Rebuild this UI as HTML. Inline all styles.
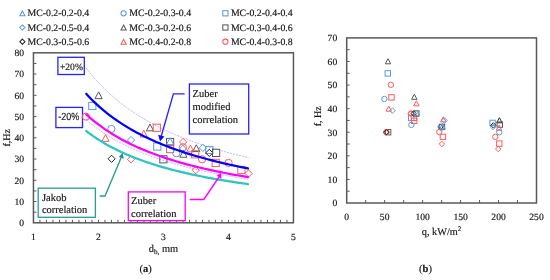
<!DOCTYPE html><html><head><meta charset="utf-8"><style>html,body{margin:0;padding:0;background:#fff;width:550px;height:280px;overflow:hidden}svg{display:block}text{text-rendering:geometricPrecision;font-family:"Liberation Serif",serif;fill:#141414;stroke:#141414;stroke-width:0.16px}</style></head><body>
<svg width="550" height="280" viewBox="0 0 550 280">
<rect width="550" height="280" fill="#fff"/>
<polygon points="22.4,10.92 25,15.83 19.8,15.83" fill="none" stroke="#5B9BD5" stroke-width="1.05"/>
<text x="27.5" y="16.4" font-size="9.8">MC-0.2-0.2-0.4</text>
<circle cx="123.6" cy="13.3" r="2.6" fill="none" stroke="#5B9BD5" stroke-width="1.05"/>
<text x="129.3" y="16.4" font-size="9.8">MC-0.2-0.3-0.4</text>
<rect x="222.8" y="10.7" width="5.2" height="5.2" fill="none" stroke="#5B9BD5" stroke-width="1.05"/>
<text x="230.9" y="16.4" font-size="9.8">MC-0.2-0.4-0.4</text>
<polygon points="22.4,24.9 25,27.5 22.4,30.1 19.8,27.5" fill="none" stroke="#5B9BD5" stroke-width="1.05"/>
<text x="27.5" y="30.6" font-size="9.8">MC-0.2-0.5-0.4</text>
<polygon points="123.6,25.12 126.2,30.03 121,30.03" fill="none" stroke="#595959" stroke-width="1.05"/>
<text x="129.3" y="30.6" font-size="9.8">MC-0.3-0.2-0.6</text>
<rect x="222.8" y="24.9" width="5.2" height="5.2" fill="none" stroke="#595959" stroke-width="1.05"/>
<text x="230.9" y="30.6" font-size="9.8">MC-0.3-0.4-0.6</text>
<polygon points="22.4,39.1 25,41.7 22.4,44.3 19.8,41.7" fill="none" stroke="#262626" stroke-width="1.05"/>
<text x="27.5" y="44.8" font-size="9.8">MC-0.3-0.5-0.6</text>
<polygon points="123.6,39.32 126.2,44.23 121,44.23" fill="none" stroke="#FF5B5B" stroke-width="1.05"/>
<text x="129.3" y="44.8" font-size="9.8">MC-0.4-0.2-0.8</text>
<circle cx="225.4" cy="41.7" r="2.6" fill="none" stroke="#FF5B5B" stroke-width="1.05"/>
<text x="230.9" y="44.8" font-size="9.8">MC-0.4-0.3-0.8</text>
<path d="M86.1,67.85 L88.81,71.34 L91.52,74.67 L94.23,77.86 L96.93,80.91 L99.64,83.84 L102.35,86.65 L105.06,89.35 L107.77,91.95 L110.48,94.44 L113.18,96.84 L115.89,99.16 L118.6,101.39 L121.31,103.54 L124.02,105.62 L126.73,107.62 L129.43,109.56 L132.14,111.43 L134.85,113.25 L137.56,115 L140.27,116.7 L142.98,118.35 L145.68,119.94 L148.39,121.49 L151.1,122.99 L153.81,124.45 L156.52,125.87 L159.22,127.24 L161.93,128.58 L164.64,129.88 L167.35,131.15 L170.06,132.38 L172.77,133.58 L175.47,134.74 L178.18,135.88 L180.89,136.99 L183.6,138.07 L186.31,139.12 L189.02,140.15 L191.72,141.15 L194.43,142.13 L197.14,143.09 L199.85,144.02 L202.56,144.93 L205.27,145.82 L207.97,146.69 L210.68,147.54 L213.39,148.37 L216.1,149.19 L218.81,149.98 L221.52,150.76 L224.22,151.53 L226.93,152.27 L229.64,153 L232.35,153.72 L235.06,154.42 L237.77,155.11 L240.47,155.78 L243.18,156.45 L245.89,157.09 L248.6,157.73" fill="none" stroke="#A2A2FF" stroke-width="0.72" stroke-dasharray="2.2 0.9"/>
<path d="M86.1,119.5 L88.81,121.82 L91.52,124.05 L94.23,126.17 L96.93,128.21 L99.64,130.16 L102.35,132.04 L105.06,133.84 L107.77,135.57 L110.48,137.23 L113.18,138.83 L115.89,140.37 L118.6,141.86 L121.31,143.29 L124.02,144.68 L126.73,146.01 L129.43,147.31 L132.14,148.56 L134.85,149.76 L137.56,150.93 L140.27,152.07 L142.98,153.16 L145.68,154.23 L148.39,155.26 L151.1,156.26 L153.81,157.23 L156.52,158.18 L159.22,159.1 L161.93,159.99 L164.64,160.85 L167.35,161.7 L170.06,162.52 L172.77,163.32 L175.47,164.1 L178.18,164.85 L180.89,165.59 L183.6,166.31 L186.31,167.01 L189.02,167.7 L191.72,168.37 L194.43,169.02 L197.14,169.66 L199.85,170.28 L202.56,170.89 L205.27,171.48 L207.97,172.06 L210.68,172.63 L213.39,173.18 L216.1,173.73 L218.81,174.26 L221.52,174.78 L224.22,175.28 L226.93,175.78 L229.64,176.27 L232.35,176.75 L235.06,177.22 L237.77,177.67 L240.47,178.12 L243.18,178.56 L245.89,179 L248.6,179.42" fill="none" stroke="#A2A2FF" stroke-width="0.72" stroke-dasharray="2.2 0.9"/>
<rect x="55.9" y="107.4" width="26.6" height="20.2" fill="#fff" stroke="#2424FF" stroke-width="1.3"/>
<polygon points="98.6,91.85 102.2,98.65 95,98.65" fill="none" stroke="#595959" stroke-width="1.0"/>
<rect x="88.7" y="102.4" width="7.2" height="7.2" fill="none" stroke="#5B9BD5" stroke-width="1.0"/>
<circle cx="85.9" cy="116.6" r="3.6" fill="none" stroke="#FF5B5B" stroke-width="1.0"/>
<circle cx="111.4" cy="128.9" r="3.6" fill="none" stroke="#5B9BD5" stroke-width="1.0"/>
<polygon points="105.5,134.55 109.1,141.35 101.9,141.35" fill="none" stroke="#FF5B5B" stroke-width="1.0"/>
<polygon points="131,136.5 134.6,140.1 131,143.7 127.4,140.1" fill="none" stroke="#5B9BD5" stroke-width="1.0"/>
<polygon points="111.6,155.2 115.2,158.8 111.6,162.4 108,158.8" fill="none" stroke="#262626" stroke-width="1.0"/>
<polygon points="131,155.8 134.6,159.4 131,163 127.4,159.4" fill="none" stroke="#FF5B5B" stroke-width="1.0"/>
<polygon points="143.8,130.25 147.4,137.05 140.2,137.05" fill="none" stroke="#FF5B5B" stroke-width="1.0"/>
<polygon points="150,124.05 153.6,130.85 146.4,130.85" fill="none" stroke="#595959" stroke-width="1.0"/>
<rect x="153.2" y="124.2" width="7.2" height="7.2" fill="none" stroke="#FF5B5B" stroke-width="1.0"/>
<rect x="153.7" y="142.9" width="7.2" height="7.2" fill="none" stroke="#5B9BD5" stroke-width="1.0"/>
<rect x="166.5" y="138.4" width="7.2" height="7.2" fill="none" stroke="#595959" stroke-width="1.0"/>
<polygon points="170.1,137.75 173.7,144.55 166.5,144.55" fill="none" stroke="#5B9BD5" stroke-width="1.0"/>
<rect x="166.5" y="145.4" width="7.2" height="7.2" fill="none" stroke="#FF5B5B" stroke-width="1.0"/>
<rect x="159.8" y="155.7" width="7.2" height="7.2" fill="none" stroke="#595959" stroke-width="1.0"/>
<polygon points="183.1,138.4 186.7,142 183.1,145.6 179.5,142" fill="none" stroke="#FF5B5B" stroke-width="1.0"/>
<circle cx="182.9" cy="147.3" r="3.6" fill="none" stroke="#FF5B5B" stroke-width="1.0"/>
<polygon points="182.9,145.3 186.5,148.9 182.9,152.5 179.3,148.9" fill="none" stroke="#5B9BD5" stroke-width="1.0"/>
<circle cx="176.3" cy="153.3" r="3.6" fill="none" stroke="#5B9BD5" stroke-width="1.0"/>
<polygon points="183.4,150.45 187,157.25 179.8,157.25" fill="none" stroke="#595959" stroke-width="1.0"/>
<polygon points="190.4,145.05 194,151.85 186.8,151.85" fill="none" stroke="#FF5B5B" stroke-width="1.0"/>
<polygon points="196.3,144.75 199.9,151.55 192.7,151.55" fill="none" stroke="#595959" stroke-width="1.0"/>
<rect x="191.6" y="150.7" width="7.2" height="7.2" fill="none" stroke="#FF5B5B" stroke-width="1.0"/>
<polygon points="202.9,144.3 206.5,147.9 202.9,151.5 199.3,147.9" fill="none" stroke="#5B9BD5" stroke-width="1.0"/>
<circle cx="202.1" cy="159.3" r="3.6" fill="none" stroke="#FF5B5B" stroke-width="1.0"/>
<rect x="205.7" y="146.4" width="7.2" height="7.2" fill="none" stroke="#5B9BD5" stroke-width="1.0"/>
<polygon points="209.3,149.3 212.9,152.9 209.3,156.5 205.7,152.9" fill="none" stroke="#262626" stroke-width="1.0"/>
<rect x="212.5" y="149.3" width="7.2" height="7.2" fill="none" stroke="#595959" stroke-width="1.0"/>
<rect x="212.1" y="159.3" width="7.2" height="7.2" fill="none" stroke="#FF5B5B" stroke-width="1.0"/>
<circle cx="228.6" cy="162.9" r="3.6" fill="none" stroke="#FF5B5B" stroke-width="1.0"/>
<polygon points="195.7,166.6 199.3,170.2 195.7,173.8 192.1,170.2" fill="none" stroke="#FF5B5B" stroke-width="1.0"/>
<rect x="237.8" y="166.4" width="7.2" height="7.2" fill="none" stroke="#FF5B5B" stroke-width="1.0"/>
<polygon points="248.6,169.8 252.2,173.4 248.6,177 245,173.4" fill="none" stroke="#FF5B5B" stroke-width="1.0"/>
<path d="M86.23,130.99 L88.93,133.04 L91.62,135.01 L94.32,136.89 L97.01,138.69 L99.71,140.41 L102.4,142.07 L105.1,143.66 L107.79,145.2 L110.49,146.67 L113.18,148.09 L115.88,149.45 L118.57,150.77 L121.27,152.04 L123.96,153.27 L126.66,154.45 L129.36,155.59 L132.05,156.7 L134.75,157.77 L137.44,158.81 L140.14,159.82 L142.83,160.79 L145.53,161.73 L148.22,162.65 L150.92,163.54 L153.61,164.4 L156.31,165.24 L159,166.05 L161.7,166.84 L164.39,167.61 L167.09,168.36 L169.79,169.09 L172.48,169.8 L175.18,170.49 L177.87,171.16 L180.57,171.82 L183.26,172.46 L185.96,173.08 L188.65,173.69 L191.35,174.29 L194.04,174.87 L196.74,175.43 L199.43,175.98 L202.13,176.52 L204.82,177.05 L207.52,177.57 L210.22,178.07 L212.91,178.57 L215.61,179.05 L218.3,179.52 L221,179.98 L223.69,180.43 L226.39,180.88 L229.08,181.31 L231.78,181.73 L234.47,182.15 L237.17,182.56 L239.86,182.96 L242.56,183.35 L245.25,183.73 L247.95,184.11" fill="none" stroke="#2EC4C0" stroke-width="2.25" stroke-linecap="round"/>
<path d="M86.23,114.34 L88.93,116.76 L91.62,119.08 L94.32,121.31 L97.01,123.43 L99.71,125.47 L102.4,127.43 L105.1,129.31 L107.79,131.12 L110.49,132.86 L113.18,134.54 L115.88,136.15 L118.57,137.71 L121.27,139.21 L123.96,140.65 L126.66,142.05 L129.36,143.41 L132.05,144.71 L134.75,145.98 L137.44,147.21 L140.14,148.39 L142.83,149.54 L145.53,150.66 L148.22,151.74 L150.92,152.79 L153.61,153.81 L156.31,154.8 L159,155.76 L161.7,156.69 L164.39,157.6 L167.09,158.49 L169.79,159.35 L172.48,160.19 L175.18,161 L177.87,161.8 L180.57,162.57 L183.26,163.33 L185.96,164.07 L188.65,164.79 L191.35,165.49 L194.04,166.17 L196.74,166.84 L199.43,167.49 L202.13,168.13 L204.82,168.76 L207.52,169.36 L210.22,169.96 L212.91,170.54 L215.61,171.11 L218.3,171.67 L221,172.22 L223.69,172.75 L226.39,173.27 L229.08,173.79 L231.78,174.29 L234.47,174.78 L237.17,175.26 L239.86,175.73 L242.56,176.2 L245.25,176.65 L247.95,177.09" fill="none" stroke="#FF00FF" stroke-width="2.25" stroke-linecap="round"/>
<path d="M86.23,93.82 L88.93,96.7 L91.62,99.46 L94.32,102.1 L97.01,104.63 L99.71,107.06 L102.4,109.39 L105.1,111.63 L107.79,113.78 L110.49,115.85 L113.18,117.84 L115.88,119.76 L118.57,121.61 L121.27,123.39 L123.96,125.11 L126.66,126.78 L129.36,128.39 L132.05,129.94 L134.75,131.45 L137.44,132.9 L140.14,134.32 L142.83,135.68 L145.53,137.01 L148.22,138.3 L150.92,139.54 L153.61,140.76 L156.31,141.93 L159,143.08 L161.7,144.19 L164.39,145.27 L167.09,146.32 L169.79,147.35 L172.48,148.34 L175.18,149.31 L177.87,150.26 L180.57,151.18 L183.26,152.08 L185.96,152.96 L188.65,153.81 L191.35,154.65 L194.04,155.46 L196.74,156.25 L199.43,157.03 L202.13,157.79 L204.82,158.53 L207.52,159.26 L210.22,159.96 L212.91,160.66 L215.61,161.33 L218.3,162 L221,162.65 L223.69,163.28 L226.39,163.9 L229.08,164.51 L231.78,165.11 L234.47,165.69 L237.17,166.27 L239.86,166.83 L242.56,167.38 L245.25,167.92 L247.95,168.45" fill="none" stroke="#0000FF" stroke-width="2.25" stroke-linecap="round"/>
<g stroke="#595959" stroke-width="1.5" fill="none">
<rect x="33.45" y="52.82" width="260" height="169.98"/>
<path d="M39.95,222.8v-3 M46.45,222.8v-3 M52.95,222.8v-3 M59.45,222.8v-3 M65.95,222.8v-3 M72.45,222.8v-3 M78.95,222.8v-3 M85.45,222.8v-3 M91.95,222.8v-3 M98.45,222.8v-3 M104.95,222.8v-3 M111.45,222.8v-3 M117.95,222.8v-3 M124.45,222.8v-3 M130.95,222.8v-3 M137.45,222.8v-3 M143.95,222.8v-3 M150.45,222.8v-3 M156.95,222.8v-3 M163.45,222.8v-3 M169.95,222.8v-3 M176.45,222.8v-3 M182.95,222.8v-3 M189.45,222.8v-3 M195.95,222.8v-3 M202.45,222.8v-3 M208.95,222.8v-3 M215.45,222.8v-3 M221.95,222.8v-3 M228.45,222.8v-3 M234.95,222.8v-3 M241.45,222.8v-3 M247.95,222.8v-3 M254.45,222.8v-3 M260.95,222.8v-3 M267.45,222.8v-3 M273.95,222.8v-3 M280.45,222.8v-3 M286.95,222.8v-3 M33.45,212.18h3 M33.45,201.55h3 M33.45,190.93h3 M33.45,180.31h3 M33.45,169.68h3 M33.45,159.06h3 M33.45,148.44h3 M33.45,137.81h3 M33.45,127.19h3 M33.45,116.57h3 M33.45,105.94h3 M33.45,95.32h3 M33.45,84.69h3 M33.45,74.07h3 M33.45,63.45h3" stroke-width="1"/>
</g>
<text x="24" y="226.1" font-size="9.6" text-anchor="end">0</text>
<text x="24" y="204.85" font-size="9.6" text-anchor="end">10</text>
<text x="24" y="183.61" font-size="9.6" text-anchor="end">20</text>
<text x="24" y="162.36" font-size="9.6" text-anchor="end">30</text>
<text x="24" y="141.11" font-size="9.6" text-anchor="end">40</text>
<text x="24" y="119.87" font-size="9.6" text-anchor="end">50</text>
<text x="24" y="98.62" font-size="9.6" text-anchor="end">60</text>
<text x="24" y="77.37" font-size="9.6" text-anchor="end">70</text>
<text x="24" y="56.12" font-size="9.6" text-anchor="end">80</text>
<text x="33.45" y="240" font-size="9.6" text-anchor="middle">1</text>
<text x="98.45" y="240" font-size="9.6" text-anchor="middle">2</text>
<text x="163.45" y="240" font-size="9.6" text-anchor="middle">3</text>
<text x="228.45" y="240" font-size="9.6" text-anchor="middle">4</text>
<text x="293.45" y="240" font-size="9.6" text-anchor="middle">5</text>
<text x="163.4" y="251.7" font-size="10.4" text-anchor="middle">d<tspan font-size="7.2" dy="2.3">b,</tspan><tspan dy="-2.3"> mm</tspan></text>
<text transform="translate(10.3,137.8) rotate(-90)" font-size="10" text-anchor="middle">f,Hz</text>
<rect x="57.9" y="57.3" width="26.4" height="17.2" fill="#fff" stroke="#2424FF" stroke-width="1.3"/>
<text x="71.4" y="69.9" font-size="9.6" text-anchor="middle">+20%</text>
<text transform="translate(68.8,120.2) scale(0.87,1)" font-size="10.4" text-anchor="middle" style="font-family:'Liberation Sans',sans-serif;fill:#262626">-20%</text>
<rect x="189.4" y="84.0" width="59.3" height="50.0" fill="#fff" stroke="#2424FF" stroke-width="1.3"/>
<text font-size="10.5"><tspan x="192.6" y="96.9">Zuber</tspan><tspan x="192.6" y="109.8">modified</tspan><tspan x="192.6" y="122.6">correlation</tspan></text>
<path d="M184.6,93.9 H173.4 L161.3,136" fill="none" stroke="#2424FF" stroke-width="1.35"/>
<polygon points="160,141.5 158.2,134.8 164.4,136.6" fill="#0A0AFF"/>
<rect x="38.2" y="188.2" width="57.2" height="29.1" fill="#fff" stroke="#2A9A98" stroke-width="1.3"/>
<text font-size="10.5"><tspan x="41.9" y="200.6">Jakob</tspan><tspan x="41.9" y="212.8">correlation</tspan></text>
<path d="M99.6,196 H105.0 L121.2,157.6" fill="none" stroke="#2A9A98" stroke-width="1.35"/>
<polygon points="122.6,152.9 118.7,157.1 123.8,158.7" fill="#23918F"/>
<rect x="128.3" y="191.9" width="56.9" height="28.7" fill="#fff" stroke="#FF00FF" stroke-width="1.3"/>
<text font-size="10.5"><tspan x="131.1" y="204.4">Zuber</tspan><tspan x="131.1" y="216.9">correlation</tspan></text>
<path d="M189.9,199.5 H203.8 L219,177" fill="none" stroke="#FF00FF" stroke-width="1.35"/>
<polygon points="221.2,172.7 216.8,175.6 221.3,178.9" fill="#FF00FF"/>
<polygon points="388,58.71 390.7,63.81 385.3,63.81" fill="none" stroke="#595959" stroke-width="1.0"/>
<rect x="385.1" y="70.7" width="5.4" height="5.4" fill="none" stroke="#5B9BD5" stroke-width="1.0"/>
<circle cx="390.9" cy="84.8" r="2.7" fill="none" stroke="#FF5B5B" stroke-width="1.0"/>
<rect x="388.8" y="94.7" width="5.4" height="5.4" fill="none" stroke="#FF5B5B" stroke-width="1.0"/>
<circle cx="384.4" cy="99" r="2.7" fill="none" stroke="#5B9BD5" stroke-width="1.0"/>
<polygon points="388.7,106.11 391.4,111.21 386,111.21" fill="none" stroke="#FF5B5B" stroke-width="1.0"/>
<polygon points="392.5,107.9 395.2,110.6 392.5,113.3 389.8,110.6" fill="none" stroke="#5B9BD5" stroke-width="1.0"/>
<rect x="385.4" y="129.5" width="5.4" height="5.4" fill="none" stroke="#595959" stroke-width="1.0"/>
<circle cx="386.4" cy="132.2" r="2.7" fill="none" stroke="#FF5B5B" stroke-width="1.0"/>
<polygon points="385.9,129.5 388.6,132.2 385.9,134.9 383.2,132.2" fill="none" stroke="#FF5B5B" stroke-width="1.0"/>
<polygon points="386.4,129.5 389.1,132.2 386.4,134.9 383.7,132.2" fill="none" stroke="#262626" stroke-width="1.0"/>
<polygon points="414.3,94.21 417,99.31 411.6,99.31" fill="none" stroke="#595959" stroke-width="1.0"/>
<polygon points="416.4,100.71 419.1,105.81 413.7,105.81" fill="none" stroke="#FF5B5B" stroke-width="1.0"/>
<rect x="408.5" y="115.3" width="5.4" height="5.4" fill="none" stroke="#5B9BD5" stroke-width="1.0"/>
<rect x="411.2" y="115.1" width="5.4" height="5.4" fill="none" stroke="#FF5B5B" stroke-width="1.0"/>
<rect x="411.5" y="118.1" width="5.4" height="5.4" fill="none" stroke="#FF5B5B" stroke-width="1.0"/>
<circle cx="411.4" cy="124.9" r="2.7" fill="none" stroke="#5B9BD5" stroke-width="1.0"/>
<polygon points="410.7,110.8 413.4,113.5 410.7,116.2 408,113.5" fill="none" stroke="#FF5B5B" stroke-width="1.0"/>
<circle cx="411" cy="113.5" r="2.7" fill="none" stroke="#FF5B5B" stroke-width="1.0"/>
<polygon points="413.6,110.8 416.3,113.5 413.6,116.2 410.9,113.5" fill="none" stroke="#262626" stroke-width="1.0"/>
<rect x="413.6" y="110.8" width="5.4" height="5.4" fill="none" stroke="#595959" stroke-width="1.0"/>
<polygon points="416.5,110.11 419.2,115.21 413.8,115.21" fill="none" stroke="#5B9BD5" stroke-width="1.0"/>
<polygon points="443.3,116.81 446,121.91 440.6,121.91" fill="none" stroke="#FF5B5B" stroke-width="1.0"/>
<polygon points="444.5,117.8 447.2,120.5 444.5,123.2 441.8,120.5" fill="none" stroke="#5B9BD5" stroke-width="1.0"/>
<rect x="439.3" y="124.2" width="5.4" height="5.4" fill="none" stroke="#595959" stroke-width="1.0"/>
<polygon points="440.5,124.2 443.2,126.9 440.5,129.6 437.8,126.9" fill="none" stroke="#262626" stroke-width="1.0"/>
<circle cx="441" cy="127.5" r="2.7" fill="none" stroke="#5B9BD5" stroke-width="1.0"/>
<polygon points="442.5,123.61 445.2,128.71 439.8,128.71" fill="none" stroke="#5B9BD5" stroke-width="1.0"/>
<circle cx="439.3" cy="132.1" r="2.7" fill="none" stroke="#FF5B5B" stroke-width="1.0"/>
<rect x="440.2" y="134.2" width="5.4" height="5.4" fill="none" stroke="#FF5B5B" stroke-width="1.0"/>
<polygon points="441.9,141.3 444.6,144 441.9,146.7 439.2,144" fill="none" stroke="#FF5B5B" stroke-width="1.0"/>
<rect x="489.9" y="120.2" width="5.4" height="5.4" fill="none" stroke="#5B9BD5" stroke-width="1.0"/>
<polygon points="493.4,122.7 496.1,125.4 493.4,128.1 490.7,125.4" fill="none" stroke="#262626" stroke-width="1.0"/>
<polygon points="493,124.3 495.7,127 493,129.7 490.3,127" fill="none" stroke="#5B9BD5" stroke-width="1.0"/>
<polygon points="499.4,117.71 502.1,122.81 496.7,122.81" fill="none" stroke="#262626" stroke-width="1.0"/>
<rect x="497.1" y="121.9" width="5.4" height="5.4" fill="none" stroke="#595959" stroke-width="1.0"/>
<polygon points="499,125.11 501.7,130.21 496.3,130.21" fill="none" stroke="#FF5B5B" stroke-width="1.0"/>
<circle cx="499.3" cy="132.3" r="2.7" fill="none" stroke="#5B9BD5" stroke-width="1.0"/>
<circle cx="495.3" cy="136.9" r="2.7" fill="none" stroke="#FF5B5B" stroke-width="1.0"/>
<rect x="496.6" y="140.9" width="5.4" height="5.4" fill="none" stroke="#FF5B5B" stroke-width="1.0"/>
<polygon points="498.2,146.3 500.9,149 498.2,151.7 495.5,149" fill="none" stroke="#FF5B5B" stroke-width="1.0"/>
<g stroke="#595959" stroke-width="1.5" fill="none">
<rect x="346.7" y="37.9" width="189.8" height="165.1"/>
<path d="M365.68,203v-3 M384.66,203v-3 M403.64,203v-3 M422.62,203v-3 M441.6,203v-3 M460.58,203v-3 M479.56,203v-3 M498.54,203v-3 M517.52,203v-3 M346.7,191.21h3 M346.7,179.41h3 M346.7,167.62h3 M346.7,155.83h3 M346.7,144.03h3 M346.7,132.24h3 M346.7,120.45h3 M346.7,108.66h3 M346.7,96.86h3 M346.7,85.07h3 M346.7,73.28h3 M346.7,61.48h3 M346.7,49.69h3" stroke-width="1"/>
</g>
<text x="337.2" y="206.3" font-size="9.6" text-anchor="end">0</text>
<text x="337.2" y="182.71" font-size="9.6" text-anchor="end">10</text>
<text x="337.2" y="159.13" font-size="9.6" text-anchor="end">20</text>
<text x="337.2" y="135.54" font-size="9.6" text-anchor="end">30</text>
<text x="337.2" y="111.96" font-size="9.6" text-anchor="end">40</text>
<text x="337.2" y="88.37" font-size="9.6" text-anchor="end">50</text>
<text x="337.2" y="64.78" font-size="9.6" text-anchor="end">60</text>
<text x="337.2" y="41.2" font-size="9.6" text-anchor="end">70</text>
<text x="346.7" y="219.8" font-size="9.6" text-anchor="middle">0</text>
<text x="384.66" y="219.8" font-size="9.6" text-anchor="middle">50</text>
<text x="422.62" y="219.8" font-size="9.6" text-anchor="middle">100</text>
<text x="460.58" y="219.8" font-size="9.6" text-anchor="middle">150</text>
<text x="498.54" y="219.8" font-size="9.6" text-anchor="middle">200</text>
<text x="536.5" y="219.8" font-size="9.6" text-anchor="middle">250</text>
<text x="441.6" y="234.5" font-size="10.3" text-anchor="middle">q, kW/m<tspan font-size="7" dy="-3.9">2</tspan></text>
<text transform="translate(321.2,116.3) rotate(-90)" font-size="10" text-anchor="middle">f, Hz</text>
<text x="145.6" y="272.2" font-size="10.5" text-anchor="middle">(<tspan font-weight="bold">a</tspan>)</text>
<text x="425.5" y="272.2" font-size="10.5" text-anchor="middle">(<tspan font-weight="bold">b</tspan>)</text>
</svg></body></html>
